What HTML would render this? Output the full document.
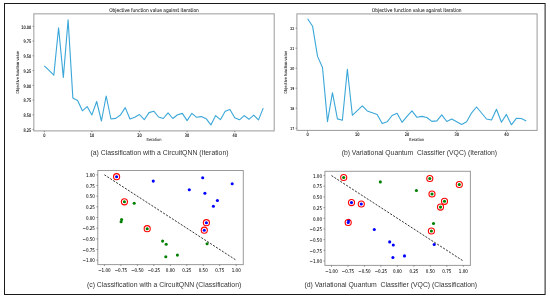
<!DOCTYPE html>
<html><head><meta charset="utf-8"><title>Figure</title>
<style>html,body{margin:0;padding:0;background:#fff;width:550px;height:298px;overflow:hidden}</style>
</head><body>
<svg width="550" height="298" viewBox="0 0 550 298" style="display:block">
<rect x="0" y="0" width="550" height="298" fill="#fff"/>
<g font-family="'DejaVu Sans Condensed', 'DejaVu Sans', sans-serif" fill="#1a1a1a" text-rendering="geometricPrecision">
<rect x="33.85" y="13.85" width="240.35" height="117.05" fill="none" stroke="#9a9a9a" stroke-width="1"/>
<polyline points="44.30,65.90 49.06,70.40 53.82,75.10 58.58,27.80 63.34,77.40 68.10,19.80 72.86,97.90 77.62,100.40 82.38,110.80 87.14,106.60 91.90,114.90 96.66,101.50 101.42,121.00 106.18,96.00 110.94,119.00 115.70,118.40 120.46,115.00 125.22,107.60 129.98,119.00 134.74,117.20 139.50,114.50 144.26,119.70 149.02,112.60 153.78,111.20 158.54,117.00 163.30,118.50 168.06,112.80 172.82,118.50 177.58,114.80 182.34,113.40 187.10,120.60 191.86,113.30 196.62,117.30 201.38,116.60 206.14,118.70 210.90,124.90 215.66,115.60 220.42,119.70 225.18,111.30 229.94,109.40 234.70,117.80 239.46,119.80 244.22,115.60 248.98,119.30 253.74,115.10 258.50,119.90 263.26,108.10" fill="none" stroke="#3aa7d8" stroke-width="1.1" stroke-linejoin="round"/>
<line x1="32.55" y1="26.30" x2="33.85" y2="26.30" stroke="#555" stroke-width="0.6"/>
<text transform="translate(31.25 28.50) scale(0.830 1)" font-size="4.7" text-anchor="end" fill="#111" stroke="#111" stroke-width="0.1">10.00</text>
<line x1="32.55" y1="41.06" x2="33.85" y2="41.06" stroke="#555" stroke-width="0.6"/>
<text transform="translate(31.25 43.26) scale(0.830 1)" font-size="4.7" text-anchor="end" fill="#111" stroke="#111" stroke-width="0.1">9.75</text>
<line x1="32.55" y1="55.81" x2="33.85" y2="55.81" stroke="#555" stroke-width="0.6"/>
<text transform="translate(31.25 58.02) scale(0.830 1)" font-size="4.7" text-anchor="end" fill="#111" stroke="#111" stroke-width="0.1">9.50</text>
<line x1="32.55" y1="70.57" x2="33.85" y2="70.57" stroke="#555" stroke-width="0.6"/>
<text transform="translate(31.25 72.77) scale(0.830 1)" font-size="4.7" text-anchor="end" fill="#111" stroke="#111" stroke-width="0.1">9.25</text>
<line x1="32.55" y1="85.33" x2="33.85" y2="85.33" stroke="#555" stroke-width="0.6"/>
<text transform="translate(31.25 87.53) scale(0.830 1)" font-size="4.7" text-anchor="end" fill="#111" stroke="#111" stroke-width="0.1">9.00</text>
<line x1="32.55" y1="100.09" x2="33.85" y2="100.09" stroke="#555" stroke-width="0.6"/>
<text transform="translate(31.25 102.29) scale(0.830 1)" font-size="4.7" text-anchor="end" fill="#111" stroke="#111" stroke-width="0.1">8.75</text>
<line x1="32.55" y1="114.84" x2="33.85" y2="114.84" stroke="#555" stroke-width="0.6"/>
<text transform="translate(31.25 117.05) scale(0.830 1)" font-size="4.7" text-anchor="end" fill="#111" stroke="#111" stroke-width="0.1">8.50</text>
<line x1="32.55" y1="129.60" x2="33.85" y2="129.60" stroke="#555" stroke-width="0.6"/>
<text transform="translate(31.25 131.80) scale(0.830 1)" font-size="4.7" text-anchor="end" fill="#111" stroke="#111" stroke-width="0.1">8.25</text>
<line x1="44.30" y1="130.90" x2="44.30" y2="132.20" stroke="#555" stroke-width="0.6"/>
<text transform="translate(44.30 136.50) scale(0.830 1)" font-size="4.7" text-anchor="middle" fill="#111" stroke="#111" stroke-width="0.1">0</text>
<line x1="91.90" y1="130.90" x2="91.90" y2="132.20" stroke="#555" stroke-width="0.6"/>
<text transform="translate(91.90 136.50) scale(0.830 1)" font-size="4.7" text-anchor="middle" fill="#111" stroke="#111" stroke-width="0.1">10</text>
<line x1="139.50" y1="130.90" x2="139.50" y2="132.20" stroke="#555" stroke-width="0.6"/>
<text transform="translate(139.50 136.50) scale(0.830 1)" font-size="4.7" text-anchor="middle" fill="#111" stroke="#111" stroke-width="0.1">20</text>
<line x1="187.10" y1="130.90" x2="187.10" y2="132.20" stroke="#555" stroke-width="0.6"/>
<text transform="translate(187.10 136.50) scale(0.830 1)" font-size="4.7" text-anchor="middle" fill="#111" stroke="#111" stroke-width="0.1">30</text>
<line x1="234.70" y1="130.90" x2="234.70" y2="132.20" stroke="#555" stroke-width="0.6"/>
<text transform="translate(234.70 136.50) scale(0.830 1)" font-size="4.7" text-anchor="middle" fill="#111" stroke="#111" stroke-width="0.1">40</text>
<text transform="translate(154.00 12.10) scale(0.927 1)" font-size="5.2" text-anchor="middle" fill="#111" stroke="#111" stroke-width="0.05">Objective function value against iteration</text>
<text transform="translate(18.70 72.40) rotate(-90) scale(0.990 1)" font-size="3.95" text-anchor="middle" fill="#111" stroke="#111" stroke-width="0.04">Objective function value</text>
<text transform="translate(154.00 141.30) scale(0.940 1)" font-size="4.2" text-anchor="middle" fill="#111" stroke="#111" stroke-width="0.05">Iteration</text>
<rect x="296.90" y="13.90" width="240.20" height="116.50" fill="none" stroke="#9a9a9a" stroke-width="1"/>
<polyline points="307.60,18.80 312.57,26.20 317.54,56.40 322.51,67.50 327.48,121.60 332.45,92.70 337.42,118.90 342.39,120.30 347.36,69.20 352.33,115.30 357.30,110.70 362.27,105.90 367.24,110.90 372.21,112.70 377.18,114.50 382.15,123.60 387.12,121.80 392.09,115.50 397.06,113.20 402.03,122.30 407.00,116.40 411.97,110.90 416.94,117.30 421.91,116.40 426.88,117.50 431.85,121.40 436.82,120.90 441.79,114.80 446.76,121.50 451.73,119.10 456.70,121.70 461.67,124.40 466.64,121.70 471.61,112.80 476.58,107.00 481.55,113.00 486.52,119.00 491.49,120.00 496.46,109.20 501.43,122.20 506.40,114.40 511.37,124.80 516.34,118.30 521.31,118.50 526.28,121.00" fill="none" stroke="#3aa7d8" stroke-width="1.1" stroke-linejoin="round"/>
<line x1="295.60" y1="28.20" x2="296.90" y2="28.20" stroke="#555" stroke-width="0.6"/>
<text transform="translate(294.20 30.00) scale(0.860 1)" font-size="4.1" text-anchor="end" fill="#111" stroke="#111" stroke-width="0.1">22</text>
<line x1="295.60" y1="48.20" x2="296.90" y2="48.20" stroke="#555" stroke-width="0.6"/>
<text transform="translate(294.20 50.00) scale(0.860 1)" font-size="4.1" text-anchor="end" fill="#111" stroke="#111" stroke-width="0.1">21</text>
<line x1="295.60" y1="68.20" x2="296.90" y2="68.20" stroke="#555" stroke-width="0.6"/>
<text transform="translate(294.20 70.00) scale(0.860 1)" font-size="4.1" text-anchor="end" fill="#111" stroke="#111" stroke-width="0.1">20</text>
<line x1="295.60" y1="88.20" x2="296.90" y2="88.20" stroke="#555" stroke-width="0.6"/>
<text transform="translate(294.20 90.00) scale(0.860 1)" font-size="4.1" text-anchor="end" fill="#111" stroke="#111" stroke-width="0.1">19</text>
<line x1="295.60" y1="108.20" x2="296.90" y2="108.20" stroke="#555" stroke-width="0.6"/>
<text transform="translate(294.20 110.00) scale(0.860 1)" font-size="4.1" text-anchor="end" fill="#111" stroke="#111" stroke-width="0.1">18</text>
<line x1="295.60" y1="128.20" x2="296.90" y2="128.20" stroke="#555" stroke-width="0.6"/>
<text transform="translate(294.20 130.00) scale(0.860 1)" font-size="4.1" text-anchor="end" fill="#111" stroke="#111" stroke-width="0.1">17</text>
<line x1="307.60" y1="130.40" x2="307.60" y2="131.70" stroke="#555" stroke-width="0.6"/>
<text transform="translate(307.60 136.00) scale(0.830 1)" font-size="4.7" text-anchor="middle" fill="#111" stroke="#111" stroke-width="0.1">0</text>
<line x1="357.30" y1="130.40" x2="357.30" y2="131.70" stroke="#555" stroke-width="0.6"/>
<text transform="translate(357.30 136.00) scale(0.830 1)" font-size="4.7" text-anchor="middle" fill="#111" stroke="#111" stroke-width="0.1">10</text>
<line x1="407.00" y1="130.40" x2="407.00" y2="131.70" stroke="#555" stroke-width="0.6"/>
<text transform="translate(407.00 136.00) scale(0.830 1)" font-size="4.7" text-anchor="middle" fill="#111" stroke="#111" stroke-width="0.1">20</text>
<line x1="456.70" y1="130.40" x2="456.70" y2="131.70" stroke="#555" stroke-width="0.6"/>
<text transform="translate(456.70 136.00) scale(0.830 1)" font-size="4.7" text-anchor="middle" fill="#111" stroke="#111" stroke-width="0.1">30</text>
<line x1="506.40" y1="130.40" x2="506.40" y2="131.70" stroke="#555" stroke-width="0.6"/>
<text transform="translate(506.40 136.00) scale(0.830 1)" font-size="4.7" text-anchor="middle" fill="#111" stroke="#111" stroke-width="0.1">40</text>
<text transform="translate(416.70 12.10) scale(0.927 1)" font-size="5.2" text-anchor="middle" fill="#111" stroke="#111" stroke-width="0.05">Objective function value against iteration</text>
<text transform="translate(287.40 72.30) rotate(-90) scale(0.990 1)" font-size="3.95" text-anchor="middle" fill="#111" stroke="#111" stroke-width="0.04">Objective function value</text>
<text transform="translate(416.70 140.80) scale(0.940 1)" font-size="4.2" text-anchor="middle" fill="#111" stroke="#111" stroke-width="0.05">Iteration</text>
<rect x="97.80" y="170.50" width="145.50" height="94.10" fill="none" stroke="#9a9a9a" stroke-width="1"/>
<line x1="104.40" y1="264.60" x2="104.40" y2="266.00" stroke="#555" stroke-width="0.6"/>
<text transform="translate(104.40 272.20) scale(0.900 1)" font-size="5.0" text-anchor="middle" fill="#111" stroke="#111" stroke-width="0.06">−1.00</text>
<line x1="96.40" y1="260.20" x2="97.80" y2="260.20" stroke="#555" stroke-width="0.6"/>
<text transform="translate(94.90 262.40) scale(0.900 1)" font-size="5.0" text-anchor="end" fill="#111" stroke="#111" stroke-width="0.06">−1.00</text>
<line x1="120.88" y1="264.60" x2="120.88" y2="266.00" stroke="#555" stroke-width="0.6"/>
<text transform="translate(120.88 272.20) scale(0.900 1)" font-size="5.0" text-anchor="middle" fill="#111" stroke="#111" stroke-width="0.06">−0.75</text>
<line x1="96.40" y1="249.53" x2="97.80" y2="249.53" stroke="#555" stroke-width="0.6"/>
<text transform="translate(94.90 251.72) scale(0.900 1)" font-size="5.0" text-anchor="end" fill="#111" stroke="#111" stroke-width="0.06">−0.75</text>
<line x1="137.35" y1="264.60" x2="137.35" y2="266.00" stroke="#555" stroke-width="0.6"/>
<text transform="translate(137.35 272.20) scale(0.900 1)" font-size="5.0" text-anchor="middle" fill="#111" stroke="#111" stroke-width="0.06">−0.50</text>
<line x1="96.40" y1="238.85" x2="97.80" y2="238.85" stroke="#555" stroke-width="0.6"/>
<text transform="translate(94.90 241.05) scale(0.900 1)" font-size="5.0" text-anchor="end" fill="#111" stroke="#111" stroke-width="0.06">−0.50</text>
<line x1="153.83" y1="264.60" x2="153.83" y2="266.00" stroke="#555" stroke-width="0.6"/>
<text transform="translate(153.83 272.20) scale(0.900 1)" font-size="5.0" text-anchor="middle" fill="#111" stroke="#111" stroke-width="0.06">−0.25</text>
<line x1="96.40" y1="228.18" x2="97.80" y2="228.18" stroke="#555" stroke-width="0.6"/>
<text transform="translate(94.90 230.38) scale(0.900 1)" font-size="5.0" text-anchor="end" fill="#111" stroke="#111" stroke-width="0.06">−0.25</text>
<line x1="170.30" y1="264.60" x2="170.30" y2="266.00" stroke="#555" stroke-width="0.6"/>
<text transform="translate(170.30 272.20) scale(0.900 1)" font-size="5.0" text-anchor="middle" fill="#111" stroke="#111" stroke-width="0.06">0.00</text>
<line x1="96.40" y1="217.50" x2="97.80" y2="217.50" stroke="#555" stroke-width="0.6"/>
<text transform="translate(94.90 219.70) scale(0.900 1)" font-size="5.0" text-anchor="end" fill="#111" stroke="#111" stroke-width="0.06">0.00</text>
<line x1="186.78" y1="264.60" x2="186.78" y2="266.00" stroke="#555" stroke-width="0.6"/>
<text transform="translate(186.78 272.20) scale(0.900 1)" font-size="5.0" text-anchor="middle" fill="#111" stroke="#111" stroke-width="0.06">0.25</text>
<line x1="96.40" y1="206.82" x2="97.80" y2="206.82" stroke="#555" stroke-width="0.6"/>
<text transform="translate(94.90 209.02) scale(0.900 1)" font-size="5.0" text-anchor="end" fill="#111" stroke="#111" stroke-width="0.06">0.25</text>
<line x1="203.25" y1="264.60" x2="203.25" y2="266.00" stroke="#555" stroke-width="0.6"/>
<text transform="translate(203.25 272.20) scale(0.900 1)" font-size="5.0" text-anchor="middle" fill="#111" stroke="#111" stroke-width="0.06">0.50</text>
<line x1="96.40" y1="196.15" x2="97.80" y2="196.15" stroke="#555" stroke-width="0.6"/>
<text transform="translate(94.90 198.35) scale(0.900 1)" font-size="5.0" text-anchor="end" fill="#111" stroke="#111" stroke-width="0.06">0.50</text>
<line x1="219.73" y1="264.60" x2="219.73" y2="266.00" stroke="#555" stroke-width="0.6"/>
<text transform="translate(219.73 272.20) scale(0.900 1)" font-size="5.0" text-anchor="middle" fill="#111" stroke="#111" stroke-width="0.06">0.75</text>
<line x1="96.40" y1="185.47" x2="97.80" y2="185.47" stroke="#555" stroke-width="0.6"/>
<text transform="translate(94.90 187.67) scale(0.900 1)" font-size="5.0" text-anchor="end" fill="#111" stroke="#111" stroke-width="0.06">0.75</text>
<line x1="236.20" y1="264.60" x2="236.20" y2="266.00" stroke="#555" stroke-width="0.6"/>
<text transform="translate(236.20 272.20) scale(0.900 1)" font-size="5.0" text-anchor="middle" fill="#111" stroke="#111" stroke-width="0.06">1.00</text>
<line x1="96.40" y1="174.80" x2="97.80" y2="174.80" stroke="#555" stroke-width="0.6"/>
<text transform="translate(94.90 177.00) scale(0.900 1)" font-size="5.0" text-anchor="end" fill="#111" stroke="#111" stroke-width="0.06">1.00</text>
<circle cx="116.60" cy="176.70" r="1.55" fill="#0000ff"/>
<circle cx="153.25" cy="181.10" r="1.55" fill="#0000ff"/>
<circle cx="189.30" cy="189.70" r="1.55" fill="#0000ff"/>
<circle cx="202.70" cy="177.70" r="1.55" fill="#0000ff"/>
<circle cx="232.20" cy="183.70" r="1.55" fill="#0000ff"/>
<circle cx="204.90" cy="193.20" r="1.55" fill="#0000ff"/>
<circle cx="217.40" cy="200.50" r="1.55" fill="#0000ff"/>
<circle cx="213.40" cy="206.30" r="1.55" fill="#0000ff"/>
<circle cx="206.40" cy="222.70" r="1.55" fill="#0000ff"/>
<circle cx="204.30" cy="230.20" r="1.55" fill="#0000ff"/>
<circle cx="124.40" cy="201.80" r="1.55" fill="#008000"/>
<circle cx="134.20" cy="203.20" r="1.55" fill="#008000"/>
<circle cx="121.60" cy="219.60" r="1.55" fill="#008000"/>
<circle cx="121.10" cy="221.70" r="1.55" fill="#008000"/>
<circle cx="147.20" cy="228.70" r="1.55" fill="#008000"/>
<circle cx="162.60" cy="241.10" r="1.55" fill="#008000"/>
<circle cx="166.20" cy="244.20" r="1.55" fill="#008000"/>
<circle cx="207.10" cy="243.70" r="1.55" fill="#008000"/>
<circle cx="165.80" cy="256.70" r="1.55" fill="#008000"/>
<circle cx="177.40" cy="255.10" r="1.55" fill="#008000"/>
<circle cx="116.60" cy="176.70" r="3.05" fill="none" stroke="#ff0000" stroke-width="1.1"/>
<circle cx="206.40" cy="222.70" r="3.05" fill="none" stroke="#ff0000" stroke-width="1.1"/>
<circle cx="204.30" cy="230.20" r="3.05" fill="none" stroke="#ff0000" stroke-width="1.1"/>
<circle cx="124.40" cy="201.80" r="3.05" fill="none" stroke="#ff0000" stroke-width="1.1"/>
<circle cx="147.20" cy="228.70" r="3.05" fill="none" stroke="#ff0000" stroke-width="1.1"/>
<line x1="104.40" y1="174.80" x2="236.20" y2="260.20" stroke="#2a2a2a" stroke-width="0.95" stroke-dasharray="2.1 1.4"/>
<rect x="324.90" y="171.30" width="145.50" height="94.10" fill="none" stroke="#9a9a9a" stroke-width="1"/>
<line x1="331.50" y1="265.40" x2="331.50" y2="266.80" stroke="#555" stroke-width="0.6"/>
<text transform="translate(331.50 273.00) scale(0.900 1)" font-size="5.0" text-anchor="middle" fill="#111" stroke="#111" stroke-width="0.06">−1.00</text>
<line x1="323.50" y1="261.00" x2="324.90" y2="261.00" stroke="#555" stroke-width="0.6"/>
<text transform="translate(322.00 263.20) scale(0.900 1)" font-size="5.0" text-anchor="end" fill="#111" stroke="#111" stroke-width="0.06">−1.00</text>
<line x1="347.97" y1="265.40" x2="347.97" y2="266.80" stroke="#555" stroke-width="0.6"/>
<text transform="translate(347.97 273.00) scale(0.900 1)" font-size="5.0" text-anchor="middle" fill="#111" stroke="#111" stroke-width="0.06">−0.75</text>
<line x1="323.50" y1="250.33" x2="324.90" y2="250.33" stroke="#555" stroke-width="0.6"/>
<text transform="translate(322.00 252.53) scale(0.900 1)" font-size="5.0" text-anchor="end" fill="#111" stroke="#111" stroke-width="0.06">−0.75</text>
<line x1="364.45" y1="265.40" x2="364.45" y2="266.80" stroke="#555" stroke-width="0.6"/>
<text transform="translate(364.45 273.00) scale(0.900 1)" font-size="5.0" text-anchor="middle" fill="#111" stroke="#111" stroke-width="0.06">−0.50</text>
<line x1="323.50" y1="239.65" x2="324.90" y2="239.65" stroke="#555" stroke-width="0.6"/>
<text transform="translate(322.00 241.85) scale(0.900 1)" font-size="5.0" text-anchor="end" fill="#111" stroke="#111" stroke-width="0.06">−0.50</text>
<line x1="380.92" y1="265.40" x2="380.92" y2="266.80" stroke="#555" stroke-width="0.6"/>
<text transform="translate(380.92 273.00) scale(0.900 1)" font-size="5.0" text-anchor="middle" fill="#111" stroke="#111" stroke-width="0.06">−0.25</text>
<line x1="323.50" y1="228.98" x2="324.90" y2="228.98" stroke="#555" stroke-width="0.6"/>
<text transform="translate(322.00 231.18) scale(0.900 1)" font-size="5.0" text-anchor="end" fill="#111" stroke="#111" stroke-width="0.06">−0.25</text>
<line x1="397.40" y1="265.40" x2="397.40" y2="266.80" stroke="#555" stroke-width="0.6"/>
<text transform="translate(397.40 273.00) scale(0.900 1)" font-size="5.0" text-anchor="middle" fill="#111" stroke="#111" stroke-width="0.06">0.00</text>
<line x1="323.50" y1="218.30" x2="324.90" y2="218.30" stroke="#555" stroke-width="0.6"/>
<text transform="translate(322.00 220.50) scale(0.900 1)" font-size="5.0" text-anchor="end" fill="#111" stroke="#111" stroke-width="0.06">0.00</text>
<line x1="413.88" y1="265.40" x2="413.88" y2="266.80" stroke="#555" stroke-width="0.6"/>
<text transform="translate(413.88 273.00) scale(0.900 1)" font-size="5.0" text-anchor="middle" fill="#111" stroke="#111" stroke-width="0.06">0.25</text>
<line x1="323.50" y1="207.62" x2="324.90" y2="207.62" stroke="#555" stroke-width="0.6"/>
<text transform="translate(322.00 209.82) scale(0.900 1)" font-size="5.0" text-anchor="end" fill="#111" stroke="#111" stroke-width="0.06">0.25</text>
<line x1="430.35" y1="265.40" x2="430.35" y2="266.80" stroke="#555" stroke-width="0.6"/>
<text transform="translate(430.35 273.00) scale(0.900 1)" font-size="5.0" text-anchor="middle" fill="#111" stroke="#111" stroke-width="0.06">0.50</text>
<line x1="323.50" y1="196.95" x2="324.90" y2="196.95" stroke="#555" stroke-width="0.6"/>
<text transform="translate(322.00 199.15) scale(0.900 1)" font-size="5.0" text-anchor="end" fill="#111" stroke="#111" stroke-width="0.06">0.50</text>
<line x1="446.82" y1="265.40" x2="446.82" y2="266.80" stroke="#555" stroke-width="0.6"/>
<text transform="translate(446.82 273.00) scale(0.900 1)" font-size="5.0" text-anchor="middle" fill="#111" stroke="#111" stroke-width="0.06">0.75</text>
<line x1="323.50" y1="186.28" x2="324.90" y2="186.28" stroke="#555" stroke-width="0.6"/>
<text transform="translate(322.00 188.47) scale(0.900 1)" font-size="5.0" text-anchor="end" fill="#111" stroke="#111" stroke-width="0.06">0.75</text>
<line x1="463.30" y1="265.40" x2="463.30" y2="266.80" stroke="#555" stroke-width="0.6"/>
<text transform="translate(463.30 273.00) scale(0.900 1)" font-size="5.0" text-anchor="middle" fill="#111" stroke="#111" stroke-width="0.06">1.00</text>
<line x1="323.50" y1="175.60" x2="324.90" y2="175.60" stroke="#555" stroke-width="0.6"/>
<text transform="translate(322.00 177.80) scale(0.900 1)" font-size="5.0" text-anchor="end" fill="#111" stroke="#111" stroke-width="0.06">1.00</text>
<circle cx="343.70" cy="177.50" r="1.55" fill="#008000"/>
<circle cx="380.35" cy="181.90" r="1.55" fill="#008000"/>
<circle cx="416.40" cy="190.50" r="1.55" fill="#008000"/>
<circle cx="429.80" cy="178.50" r="1.55" fill="#008000"/>
<circle cx="459.30" cy="184.50" r="1.55" fill="#008000"/>
<circle cx="432.00" cy="194.00" r="1.55" fill="#008000"/>
<circle cx="444.50" cy="201.30" r="1.55" fill="#008000"/>
<circle cx="440.50" cy="207.10" r="1.55" fill="#008000"/>
<circle cx="433.50" cy="223.50" r="1.55" fill="#008000"/>
<circle cx="431.40" cy="231.00" r="1.55" fill="#008000"/>
<circle cx="351.50" cy="202.60" r="1.55" fill="#0000ff"/>
<circle cx="361.30" cy="204.00" r="1.55" fill="#0000ff"/>
<circle cx="348.70" cy="220.40" r="1.55" fill="#0000ff"/>
<circle cx="348.20" cy="222.50" r="1.55" fill="#0000ff"/>
<circle cx="374.30" cy="229.50" r="1.55" fill="#0000ff"/>
<circle cx="389.70" cy="241.90" r="1.55" fill="#0000ff"/>
<circle cx="393.30" cy="245.00" r="1.55" fill="#0000ff"/>
<circle cx="434.20" cy="244.50" r="1.55" fill="#0000ff"/>
<circle cx="392.90" cy="257.50" r="1.55" fill="#0000ff"/>
<circle cx="404.50" cy="255.90" r="1.55" fill="#0000ff"/>
<circle cx="343.70" cy="177.50" r="3.05" fill="none" stroke="#ff0000" stroke-width="1.1"/>
<circle cx="429.80" cy="178.50" r="3.05" fill="none" stroke="#ff0000" stroke-width="1.1"/>
<circle cx="459.30" cy="184.50" r="3.05" fill="none" stroke="#ff0000" stroke-width="1.1"/>
<circle cx="432.00" cy="194.00" r="3.05" fill="none" stroke="#ff0000" stroke-width="1.1"/>
<circle cx="444.50" cy="201.30" r="3.05" fill="none" stroke="#ff0000" stroke-width="1.1"/>
<circle cx="440.50" cy="207.10" r="3.05" fill="none" stroke="#ff0000" stroke-width="1.1"/>
<circle cx="431.40" cy="231.00" r="3.05" fill="none" stroke="#ff0000" stroke-width="1.1"/>
<circle cx="351.50" cy="202.60" r="3.05" fill="none" stroke="#ff0000" stroke-width="1.1"/>
<circle cx="361.30" cy="204.00" r="3.05" fill="none" stroke="#ff0000" stroke-width="1.1"/>
<circle cx="348.20" cy="222.50" r="3.05" fill="none" stroke="#ff0000" stroke-width="1.1"/>
<line x1="331.50" y1="175.60" x2="463.30" y2="261.00" stroke="#2a2a2a" stroke-width="0.95" stroke-dasharray="2.1 1.4"/>
</g>
<g font-family="'Liberation Sans', Arial, sans-serif" font-size="7.4" fill="#333">
<text x="90.5" y="155.25" textLength="138" lengthAdjust="spacingAndGlyphs" xml:space="preserve">(a) Classification with a CircuitQNN (Iteration)</text>
<text x="341.7" y="155.25" textLength="155.3" lengthAdjust="spacingAndGlyphs" xml:space="preserve">(b) Variational Quantum  Classifier (VQC) (Iteration)</text>
<text x="86.9" y="287.3" textLength="154.4" lengthAdjust="spacingAndGlyphs" xml:space="preserve">(c) Classification with a CircuitQNN (Classification)</text>
<text x="304.4" y="287.3" textLength="172.7" lengthAdjust="spacingAndGlyphs" xml:space="preserve">(d) Variational Quantum  Classifier (VQC) (Classification)</text>
</g>
<rect x="4.5" y="3.5" width="540.6" height="291" fill="none" stroke="#1a1a1a" stroke-width="1"/>
</svg>
</body></html>
